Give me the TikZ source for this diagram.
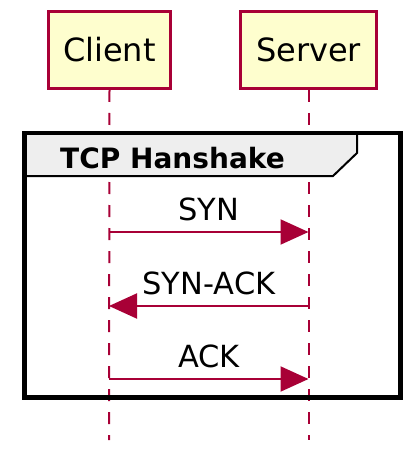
\documentclass[tikz,border=0pt]{standalone}
\usepackage{fontspec}
\setmainfont{DejaVu Sans}
\usepackage{tikz}
\usetikzlibrary{arrows.meta}

\definecolor{umlred}{HTML}{A80036}
\definecolor{umlfill}{HTML}{FEFECE}
\definecolor{tabgray}{HTML}{EEEEEE}

\tikzset{
every picture/.style={
line width=1pt
},
actor/.style={draw=umlred, fill=umlfill, line width=3pt, minimum height=77pt, text height=24pt, text depth=0pt, font=\fontsize{32}{36}\selectfont},
lifeline/.style={draw=umlred, line width=2pt, dash pattern=on 12pt off 11pt},
msg/.style={draw=umlred, line width=2pt, -{Triangle[length=28pt,width=25pt,fill=umlred]}},
msglabel/.style={anchor=base, font=\fontsize{30.5}{34}\selectfont}
}

\begin{document}
\begin{tikzpicture}[x=1pt, y=-1pt]
  \useasboundingbox (0,0) rectangle (416,457);

  % participants
  \node [actor, minimum width=122pt] at (109.5, 50) (C) {Client};
  \node [actor, minimum width=136pt] at (308.5, 50) (S) {Server};

  % lifelines
  \coordinate (Cend) at (109, 440);
  \coordinate (Send) at (308.5, 440);
  \draw [lifeline] (C.south) -- (Cend);
  \draw [lifeline] (S.south) -- (Send);

  % group frame
  \draw [fill=tabgray, line width=2pt] (24.5,133) -- (357,133) -- (357,153) -- (333,176) -- (24.5,176);
  \draw [line width=4.5pt] (24.5,133) rectangle (400.5,397.5);
  \node [anchor=base, font=\fontsize{28}{32}\selectfont\bfseries] at (172.5, 168) (T) {TCP Hanshake};

  % messages
  \coordinate (m1) at (209, 232);
  \coordinate (m2) at (209, 306);
  \coordinate (m3) at (209, 379);
  \draw [msg] (m1 -| Cend) -- (m1 -| Send);
  \draw [msg] (m2 -| Send) -- (m2 -| Cend);
  \draw [msg] (m3 -| Cend) -- (m3 -| Send);
  \node [msglabel] at (209, 220) (syn) {SYN};
  \node [msglabel] at (209, 294) (synack) {SYN-ACK};
  \node [msglabel] at (209, 367) (ack) {ACK};

\end{tikzpicture}
\end{document}
